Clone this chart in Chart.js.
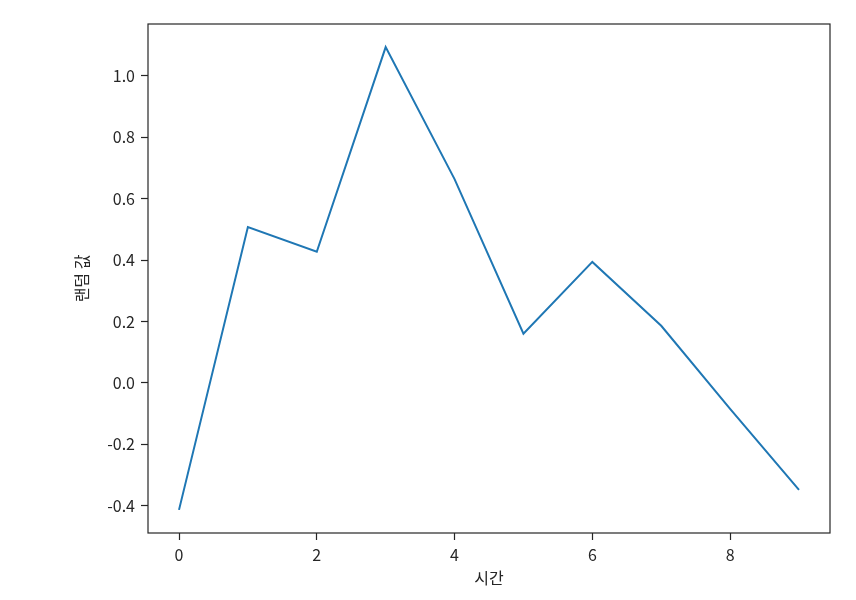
<!DOCTYPE html>
<html>
<head>
<meta charset="utf-8">
<script src="https://cdn.jsdelivr.net/npm/chart.js@4.4.1/dist/chart.umd.min.js"></script>
<style>
  html, body { margin: 0; padding: 0; background: #fff; }
  #wrap { width: 856px; height: 600px; }
</style>
</head>
<body>
<div id="wrap"><canvas id="chart" width="856" height="600"></canvas></div>
<script>
// data
const times = [0, 1, 2, 3, 4, 5, 6, 7, 8, 9];
const randomValues = [-0.414, 0.508, 0.427, 1.094, 0.664, 0.160, 0.394, 0.186, -0.085, -0.349];
const xTicks = [0, 2, 4, 6, 8];
const yTicks = [-0.4, -0.2, 0.0, 0.2, 0.4, 0.6, 0.8, 1.0];
const xLabel = '시간';
const yLabel = '랜덤 값';

const FONT = "'Noto Sans CJK KR', 'Noto Sans', sans-serif";
const INK = '#262626';

// matplotlib-like 5% margins
const xPad = (Math.max(...times) - Math.min(...times)) * 0.05;
const yPad = (Math.max(...randomValues) - Math.min(...randomValues)) * 0.05;

const boxPlugin = {
  id: 'box',
  afterDraw(chart) {
    const {ctx, chartArea: a} = chart;
    ctx.save();
    ctx.strokeStyle = INK;
    ctx.lineWidth = 1.2;
    ctx.strokeRect(a.left, a.top, a.right - a.left, a.bottom - a.top);
    ctx.restore();
  }
};

new Chart(document.getElementById('chart'), {
  type: 'line',
  data: {
    datasets: [{
      data: times.map((t, i) => ({x: t, y: randomValues[i]})),
      borderColor: '#1f77b4',
      borderWidth: 2,
      pointRadius: 0,
      tension: 0,
      fill: false
    }]
  },
  options: {
    responsive: false,
    animation: false,
    events: [],
    layout: { padding: { left: 72, top: 24, right: 26, bottom: 12 } },
    plugins: { legend: { display: false }, tooltip: { enabled: false } },
    scales: {
      x: {
        type: 'linear',
        min: Math.min(...times) - xPad,
        max: Math.max(...times) + xPad,
        afterBuildTicks: s => { s.ticks = xTicks.map(v => ({value: v})); },
        afterFit: s => { s.height = 55; },
        grid: { drawOnChartArea: false, drawTicks: true, tickLength: 7, tickColor: INK, tickWidth: 1.2 },
        border: { display: false },
        ticks: { color: INK, font: { family: FONT, size: 16 }, padding: 5, maxRotation: 0 },
        title: { display: true, text: xLabel, color: INK, font: { family: FONT, size: 16 }, padding: 0 }
      },
      y: {
        type: 'linear',
        min: Math.min(...randomValues) - yPad,
        max: Math.max(...randomValues) + yPad,
        afterBuildTicks: s => { s.ticks = yTicks.map(v => ({value: v})); },
        afterFit: s => { s.width = 76; },
        grid: { drawOnChartArea: false, drawTicks: true, tickLength: 7, tickColor: INK, tickWidth: 1.2 },
        border: { display: false },
        ticks: { color: INK, font: { family: FONT, size: 16 }, padding: 6,
                 callback: v => v.toFixed(1) },
        title: { display: true, text: yLabel, color: INK, font: { family: FONT, size: 16 }, padding: 0 }
      }
    }
  },
  plugins: [boxPlugin]
});
</script>
</body>
</html>
